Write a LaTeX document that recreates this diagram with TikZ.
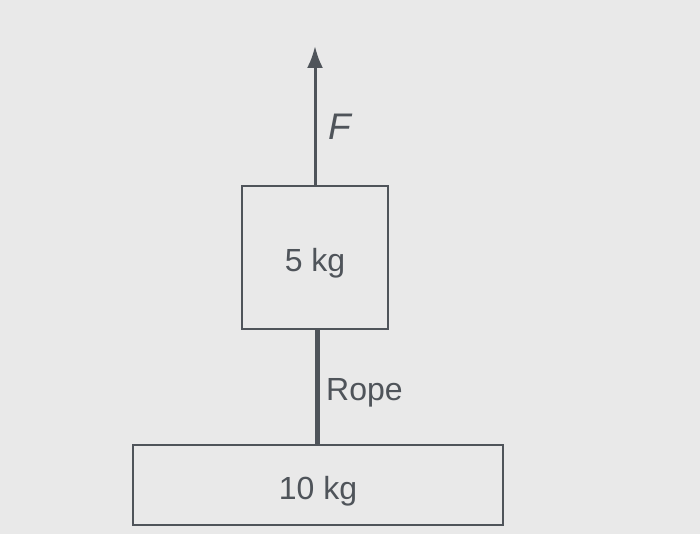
\documentclass[tikz,border=0pt]{standalone}
\usepackage{fontspec}
\setmainfont{Liberation Sans}
\usetikzlibrary{arrows.meta}
\definecolor{inkgray}{HTML}{4F545A}
\definecolor{screenbg}{HTML}{E9E9E9}
\tikzset{
    mass/.style={draw=inkgray, line width=2pt, inner sep=0pt, text=inkgray,
        text height=28pt, text depth=0pt, font=\fontsize{32}{36}\selectfont},
    lbl/.style={text=inkgray, inner sep=0pt, font=\fontsize{32}{36}\selectfont}
}

\begin{document}
\begin{tikzpicture}[x=1pt, y=-1pt]
        \fill[screenbg] (0, 0) rectangle (700, 534);
        \useasboundingbox (0, 0) rectangle (700, 534);

        \node[mass, minimum width=146, minimum height=143] (small) at (315, 257.5) {5 kg};
        \node[mass, minimum width=370, minimum height=80] (big) at (318, 485) {10 kg};
        \coordinate (tip) at (315, 46);

        % pulling force
        \draw[inkgray, line width=3pt, -{Latex[length=22pt, width=16pt]}] (small.north) -- (tip);
        \node[lbl, font=\fontsize{37}{40}\selectfont\itshape] (force) at (340, 127) {F};

        % rope between the masses
        \draw[inkgray, line width=5pt] ([xshift=2]small.south) -- ([xshift=2]small.south |- big.north);
        \node[lbl, anchor=west] (rope) at (326, 393) {Rope};
    \end{tikzpicture}
\end{document}
